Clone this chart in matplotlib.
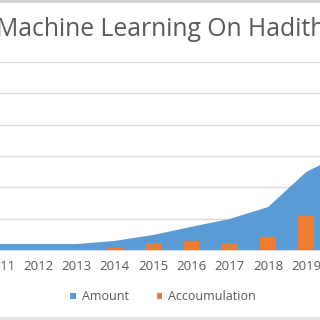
#!/usr/bin/env python3
"""
Area + bar chart of machine learning publications on Hadith per year.
Recreates a cropped Excel-style chart.
"""

import matplotlib
matplotlib.use('Agg')
import matplotlib.pyplot as plt
from matplotlib.patches import Patch
from matplotlib.lines import Line2D

# Data (1 gridline = 10 units)
years = [2010, 2011, 2012, 2013, 2014, 2015, 2016, 2017, 2018, 2019, 2020]
amount = [1.9, 1.9, 1.9, 1.9, 2.9, 4.8, 7.4, 9.9, 13.7, 24.9, 31.0]
bar_years = [2011, 2012, 2013, 2014, 2015, 2016, 2017, 2018, 2019]
accumulation = [0, 0, 0, 0.7, 2.1, 2.9, 2.1, 4.1, 10.9]
tick_years = [2011, 2012, 2013, 2014, 2015, 2016, 2017, 2018, 2019]

BLUE = '#5B9BD5'
ORANGE = '#ED7D31'
GRID = '#D9D9D9'
TEXT = '#595959'
FONT = 'Open Sans'


def main():
    plt.rcParams['font.family'] = [FONT, 'DejaVu Sans']

    fig = plt.figure(figsize=(3.2, 3.2), dpi=100)
    ax = fig.add_axes([0.0, 0.21875, 1.0, 0.5875])

    ax.fill_between(years, amount, 0, color=BLUE, linewidth=0, zorder=2)
    ax.bar(bar_years, accumulation, width=0.41, color=ORANGE, zorder=3)

    ax.set_xlim(2011.047, 2019.358)
    ax.set_ylim(0, 60)
    ax.set_yticks([10, 20, 30, 40, 50, 60])
    ax.yaxis.grid(True, color=GRID, linewidth=1.0, zorder=0)
    ax.set_axisbelow(True)
    ax.tick_params(axis='y', left=False, labelleft=False)

    ax.set_xticks(tick_years)
    ax.set_xticklabels([str(y) for y in tick_years])
    ax.tick_params(axis='x', length=0, pad=7, labelsize=9.5, colors=TEXT)

    for side in ['top', 'left', 'right']:
        ax.spines[side].set_visible(False)
    ax.spines['bottom'].set_color(GRID)

    # Title, cut on both sides like the reference crop
    fig.text(-0.014, 0.886, 'Machine Learning On Hadith', ha='left',
             va='baseline', fontsize=17.8, color=TEXT)

    handles = [Patch(facecolor=BLUE, edgecolor='none', label='Amount'),
               Patch(facecolor=ORANGE, edgecolor='none', label='Accoumulation')]
    fig.legend(handles=handles, loc='center', bbox_to_anchor=(0.51, 0.072),
               ncol=2, frameon=False, fontsize=9, labelcolor=TEXT,
               handlelength=0.45, handleheight=0.45, handletextpad=0.5,
               columnspacing=2.2)

    # Chart border fragments at the top and bottom edges
    fig.add_artist(Line2D([0, 1], [0.997, 0.997], transform=fig.transFigure,
                          color='#D0D0D0', linewidth=2))
    fig.add_artist(Line2D([0, 1], [0.004, 0.004], transform=fig.transFigure,
                          color='#E2E2E2', linewidth=3))

    fig.savefig('out.png', dpi=100)
    plt.close(fig)


if __name__ == '__main__':
    main()
